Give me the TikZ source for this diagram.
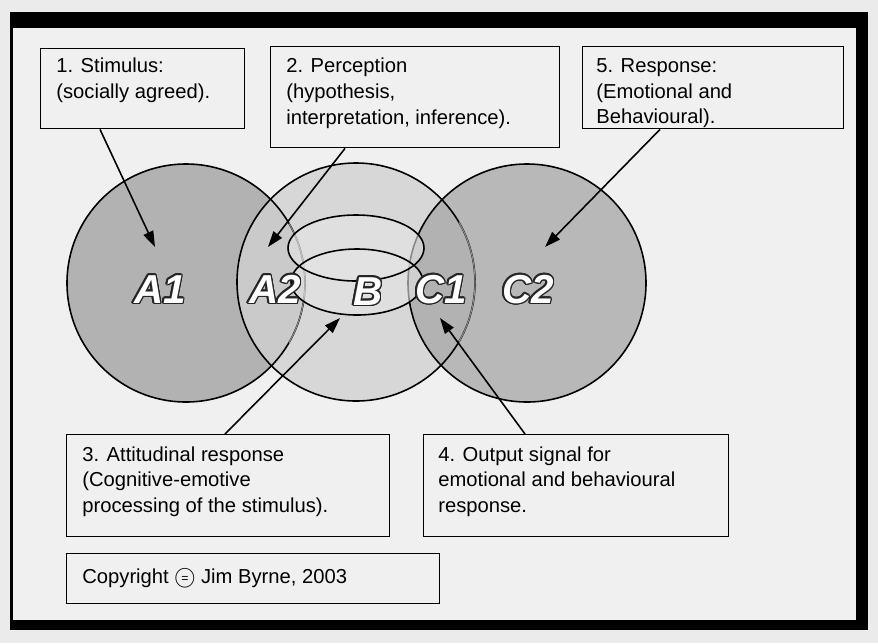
\documentclass[tikz,border=0pt]{standalone}
\usepackage{fontspec}
\setmainfont{Liberation Sans}
\usepackage{contour}
\usetikzlibrary{arrows.meta}
\contourlength{0.9pt}

\tikzset{
  box/.style={draw, line width=0.8pt, anchor=north west, inner sep=0pt},
  boxtext/.style={anchor=north west, align=left, inner sep=0pt, font=\fontsize{11.5}{14.7}\selectfont},
  pointer/.style={-{Triangle[length=9pt,width=6pt]}, line width=0.9pt},
  ring/.style={draw, line width=0.9pt},
  tag/.style={font=\fontsize{23}{25}\bfseries\itshape\selectfont}
}
\newcommand{\tagtext}[1]{\contour{black!85}{\textcolor{white}{#1}}}

\begin{document}
\begin{tikzpicture}[x=0.02cm,y=-0.02cm]
  \useasboundingbox (0,0) rectangle (878,643);
  \fill[black!8] (0,0) rectangle (878,643);
  % frame
  \fill[black] (10,12) rectangle (868,630);
  \fill[black!6] (13,28) rectangle (856,620);

  % circles
  \fill[black!30] (186,283) circle (119);
  \fill[black!18, fill opacity=0.8] (356,282) circle (119);
  \fill[black!35, fill opacity=0.75] (527,283) circle (119);
  \draw[ring] (186,283) circle (119);
  \draw[ring] (356,282) circle (119);
  \draw[ring] (527,283) circle (119);
  \draw[black!45, line width=0.6pt] (186,283) ++(-30:119) arc (-30:30:119);
  \draw[black!45, line width=0.6pt] (356,282) ++(-30:119) arc (-30:30:119);

  % ellipses
  \fill[black!10, fill opacity=0.6] (356,248) ellipse (68 and 33);
  \fill[black!10, fill opacity=0.6] (357,282) ellipse (66 and 33);
  \draw[ring] (356,248) ellipse (68 and 33);
  \draw[ring] (357,282) ellipse (66 and 33);

  % labels
  \node[tag] (a1) at (160,290) {\tagtext{A1}};
  \node[tag] (a2) at (275,290) {\tagtext{A2}};
  \node[tag] (b)  at (368,292) {\tagtext{B}};
  \node[tag] (c1) at (441,290) {\tagtext{C1}};
  \node[tag] (c2) at (528,290) {\tagtext{C2}};

  % target points
  \coordinate (pa1) at (155,247);
  \coordinate (pa2) at (268,247);
  \coordinate (pc2) at (545,247);
  \coordinate (pb)  at (340,318);
  \coordinate (pc1) at (440,318);

  % boxes
  \node[box, minimum width=4.08cm, minimum height=1.6cm] (stim) at (40,48) {};
  \node[boxtext] at (56,58) {1. Stimulus:\\(socially agreed).};
  \node[box, minimum width=5.78cm, minimum height=2.02cm] (perc) at (270,46) {};
  \node[boxtext] at (286,58) {2. Perception\\(hypothesis,\\interpretation, inference).};
  \node[box, minimum width=5.22cm, minimum height=1.64cm] (resp) at (582,46) {};
  \node[boxtext] at (596,58) {5. Response:\\(Emotional and\\Behavioural).};
  \node[box, minimum width=6.46cm, minimum height=2.04cm] (att) at (66,434) {};
  \node[boxtext] at (82,446) {3. Attitudinal response\\(Cognitive-emotive\\processing of the stimulus).};
  \node[box, minimum width=6.1cm, minimum height=2.04cm] (out) at (423,434) {};
  \node[boxtext] at (438,446) {4. Output signal for\\emotional and behavioural\\response.};
  \node[box, minimum width=7.46cm, minimum height=1cm] (copy) at (66,553) {};
  \node[boxtext, anchor=west] at (82,578) {Copyright \textcircled{\raisebox{0.2pt}{\scriptsize =}} Jim Byrne, 2003};

  % arrows
  \draw[pointer] (stim.south west) ++(60,0) -- (pa1);
  \draw[pointer] (perc.south west) ++(75,0) -- (pa2);
  \draw[pointer] (resp.south west) ++(78,0) -- (pc2);
  \draw[pointer] (att.north west) ++(159,0) -- (pb);
  \draw[pointer] (out.north west) ++(102,0) -- (pc1);
\end{tikzpicture}
\end{document}
